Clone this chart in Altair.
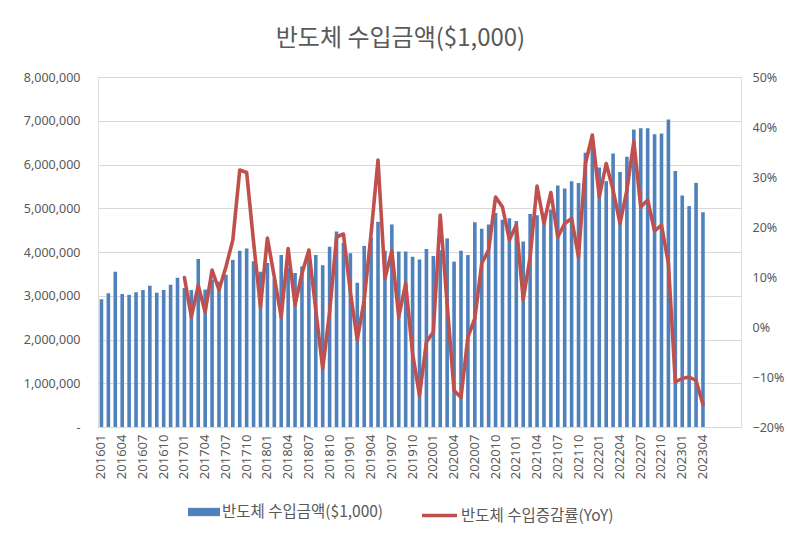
import altair as alt
import pandas as pd

# Monthly semiconductor import amounts (unit: $1,000), 2016-01 .. 2023-04
months = [f"{y}{m:02d}" for y in range(2016, 2024) for m in range(1, 13)][:88]

amount_2016 = [2920000, 3060000, 3550000, 3040000, 3020000, 3080000, 3130000, 3230000, 3070000, 3130000, 3250000, 3410000]
amount_2017 = [3180000, 3130000, 3840000, 3140000, 3370000, 3320000, 3480000, 3820000, 4030000, 4080000, 3790000, 3550000]
amount_2018 = [3750000, 3390000, 3930000, 3650000, 3520000, 3670000, 4020000, 3930000, 3700000, 4120000, 4470000, 4210000]
amount_2019 = [3970000, 3300000, 4140000, 4330000, 4690000, 4030000, 4630000, 4010000, 4010000, 3890000, 3830000, 4070000]
amount_2020 = [3910000, 4040000, 4310000, 3780000, 4030000, 3930000, 4680000, 4530000, 4630000, 4890000, 4740000, 4770000]
amount_2021 = [4710000, 4240000, 4870000, 4840000, 4860000, 4970000, 5520000, 5450000, 5620000, 5580000, 6270000, 6600000]
amount_2022 = [5930000, 5620000, 6250000, 5830000, 6180000, 6800000, 6830000, 6830000, 6690000, 6710000, 7030000, 5850000]
amount_2023 = [5290000, 5050000, 5580000, 4910000]
amounts = amount_2016 + amount_2017 + amount_2018 + amount_2019 + amount_2020 + amount_2021 + amount_2022 + amount_2023

# Year-on-year change (%), available from 2017-01
yoy_2017 = [9.9, 2.0, 8.3, 3.0, 11.4, 7.4, 12.0, 17.4, 31.4, 30.9, 17.0, 4.0]
yoy_2018 = [17.8, 10.0, 2.0, 15.7, 4.4, 10.7, 15.4, 3.4, -8.3, 3.0, 18.0, 18.6]
yoy_2019 = [7.0, -2.6, 5.4, 18.7, 33.4, 9.7, 15.2, 2.0, 8.7, -5.3, -13.7, -3.0]
yoy_2020 = [-1.0, 22.4, 4.5, -12.7, -14.1, -2.0, 1.7, 12.7, 15.4, 26.0, 24.0, 17.4]
yoy_2021 = [20.4, 5.5, 14.0, 28.2, 20.7, 26.9, 18.0, 20.7, 21.7, 14.0, 32.7, 38.4]
yoy_2022 = [26.0, 32.7, 27.4, 20.7, 27.4, 37.1, 24.0, 25.4, 19.2, 20.4, 12.7, -11.0]
yoy_2023 = [-10.3, -10.0, -10.7, -15.5]
yoy = yoy_2017 + yoy_2018 + yoy_2019 + yoy_2020 + yoy_2021 + yoy_2022 + yoy_2023

bar_name = "반도체 수입금액($1,000)"
line_name = "반도체 수입증감률(YoY)"

bars_df = pd.DataFrame({"month": months, "amount": amounts, "series": bar_name})
line_df = pd.DataFrame({"month": months[12:], "yoy": [v / 100 for v in yoy], "series": line_name})

# Category axis keeps a few empty slots after the last month
x_domain = months + ["_e1", "_e2", "_e3", "_e4", "_e5"]
tick_months = months[::3]

KFONT = "Noto Sans CJK KR"
NFONT = "Noto Sans"
GREY = "#595959"
GRID = "#D9D9D9"

x_enc = alt.X(
    "month:N",
    scale=alt.Scale(domain=x_domain, paddingInner=0.0, paddingOuter=0.0),
    sort=None,
    axis=alt.Axis(
        values=tick_months, labelAngle=-90, title=None, ticks=False,
        domainColor=GRID, labelColor=GREY, labelFont=NFONT,
        labelFontSize=13, labelPadding=7, grid=False,
    ),
)

bars = alt.Chart(bars_df).mark_bar(size=3.6).encode(
    x=x_enc,
    y=alt.Y(
        "amount:Q",
        scale=alt.Scale(domain=[0, 8000000], nice=False),
        axis=alt.Axis(
            values=[0, 1000000, 2000000, 3000000, 4000000, 5000000, 6000000, 7000000, 8000000],
            labelExpr="datum.value == 0 ? '-' : format(datum.value, ',')",
            title=None, ticks=False, domain=False, grid=True, gridColor=GRID,
            labelColor=GREY, labelFont=NFONT, labelFontSize=12.5, labelPadding=18,
        ),
    ),
    color=alt.Color(
        "series:N",
        scale=alt.Scale(domain=[bar_name], range=["#4F81BD"]),
        legend=alt.Legend(
            title=None, orient="none", legendX=90, legendY=419,
            symbolType="M-1,-0.26H1V0.26H-1Z", symbolSize=1024,
            labelFont=KFONT, labelFontSize=15.5, labelColor=GREY, labelLimit=400,
            labelOffset=2, symbolStrokeWidth=0,
        ),
    ),
)

line = alt.Chart(line_df).mark_line(strokeWidth=3.6, strokeJoin="round", strokeCap="round").encode(
    x=x_enc,
    y=alt.Y(
        "yoy:Q",
        scale=alt.Scale(domain=[-0.2, 0.5], nice=False),
        axis=alt.Axis(
            orient="right",
            values=[-0.2, -0.1, 0.0, 0.1, 0.2, 0.3, 0.4, 0.5],
            format=".0%", title=None, ticks=False, domain=False, grid=False,
            labelColor=GREY, labelFont=NFONT, labelFontSize=12.5, labelPadding=11,
        ),
    ),
    color=alt.Color(
        "series:N",
        scale=alt.Scale(domain=[line_name], range=["#C0504D"]),
        legend=alt.Legend(
            title=None, orient="none", legendX=322, legendY=419,
            symbolType="stroke", symbolSize=1225, symbolStrokeWidth=3.6,
            labelFont=KFONT, labelFontSize=15.5, labelColor=GREY, labelLimit=400,
            labelOffset=2,
        ),
    ),
)

chart = (
    alt.layer(bars, line)
    .resolve_scale(y="independent", color="independent")
    .properties(
        width=643,
        height=350,
        title=alt.TitleParams(
            text="반도체 수입금액($1,000)", font=KFONT, fontSize=24, fontWeight="normal",
            color=GREY, anchor="middle", offset=20, dx=-19,
        ),
        autosize=alt.AutoSizeParams(type="none"),
        padding={"left": 98, "top": 77, "right": 59, "bottom": 109},
    )
    .configure_view(stroke=None)
    .configure(background="white")
)

chart.save("out.html", embed_options={"renderer": "svg", "actions": False})
